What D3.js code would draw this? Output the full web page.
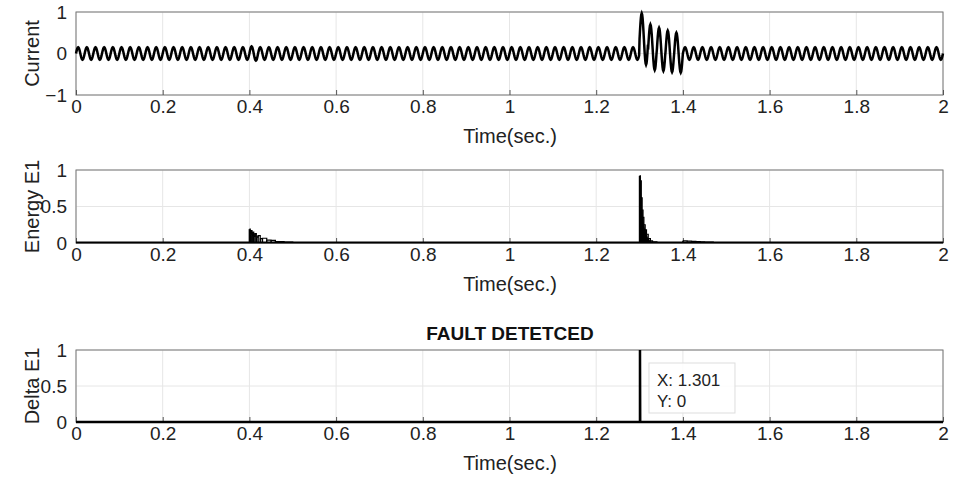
<!DOCTYPE html>
<html><head><meta charset="utf-8">
<script src="https://cdn.jsdelivr.net/npm/d3@7"></script>
<style>body{margin:0;background:#fff}text{font-family:"Liberation Sans",Arial,sans-serif}</style>
</head><body><svg id="c" width="960" height="482"></svg>
<script>
// ---- data ----
const xTicks = [0,0.2,0.4,0.6,0.8,1,1.2,1.4,1.6,1.8,2];
const currentYTicks = [-1,0,1];
const energyYTicks = [0,0.5,1];
const freqHz = 50;
// per-cycle waveform peak amplitude and dc offset (one entry per 20 ms cycle, 100 cycles)
const cycleAmp = [];
const cycleOffset = [];
const baseAmp = 0.15;
for (let i=0;i<100;i++){cycleAmp.push(baseAmp);cycleOffset.push(0);}
// fault cycles 1.30-1.40 s (cycles 65..69)
const faultAmp = [0.62,0.55,0.52,0.5,0.48];
const faultOffset = [0.35,0.15,0.1,0.05,0.02];
faultAmp.forEach((a,k)=>{cycleAmp[65+k]=a;cycleOffset[65+k]=faultOffset[k];});
cycleAmp[20]=0.17;
// energy E1 samples [time, value]
const energyBase = 0.006;
const energyEvent1 = [[0.400,0.19],[0.402,0.12],[0.404,0.17],[0.406,0.10],[0.408,0.15],[0.41,0.09],[0.413,0.13],[0.416,0.08],[0.42,0.10],[0.425,0.06],[0.43,0.065],[0.44,0.04],[0.45,0.035],[0.46,0.02],[0.47,0.018],[0.48,0.012],[0.5,0.008]];
const energyEvent2 = [[1.300,0.92],[1.302,0.85],[1.304,0.62],[1.306,0.45],[1.308,0.35],[1.31,0.25],[1.313,0.18],[1.316,0.12],[1.32,0.06],[1.325,0.03],[1.33,0.015],[1.34,0.01]];
const energyEvent3 = [[1.40,0.03],[1.41,0.025],[1.42,0.022],[1.43,0.018],[1.44,0.015],[1.45,0.012],[1.47,0.008]];
const deltaTime = 1.301;
const deltaPeak = 1;
const tipLines = ["X: 1.301","Y: 0"];

// ---- drawing ----
const svg = d3.select("#c");
const L=76,R=943;
const x = d3.scaleLinear().domain([0,2]).range([L,R]);
const panels=[
 {top:12,bot:95,dom:[-1,1],ticks:currentYTicks,label:"Current"},
 {top:170,bot:243,dom:[0,1],ticks:energyYTicks,label:"Energy E1"},
 {top:350,bot:422,dom:[0,1],ticks:energyYTicks,label:"Delta E1"}];
panels.forEach(p=>{
 p.y=d3.scaleLinear().domain(p.dom).range([p.bot,p.top]);
 const g=svg.append("g");
 g.selectAll(".gx").data(xTicks).join("line").attr("x1",d=>x(d)).attr("x2",d=>x(d)).attr("y1",p.top).attr("y2",p.bot).attr("stroke","#e6e6e6");
 g.selectAll(".gy").data(p.ticks).join("line").attr("x1",L).attr("x2",R).attr("y1",d=>p.y(d)).attr("y2",d=>p.y(d)).attr("stroke","#e6e6e6");
 g.append("rect").attr("x",L).attr("y",p.top).attr("width",R-L).attr("height",p.bot-p.top).attr("fill","none").attr("stroke","#777");
 const ax=g.append("g").attr("transform",`translate(0,${p.bot})`).call(d3.axisBottom(x).tickValues(xTicks).tickSize(-5).tickPadding(5).tickFormat(d3.format("")));
 ax.select(".domain").remove();ax.selectAll("line").attr("stroke","#555");
 ax.selectAll("text").style("font-size","19px").attr("fill","#222");
 const ay=g.append("g").attr("transform",`translate(${L},0)`).call(d3.axisLeft(p.y).tickValues(p.ticks).tickSize(0).tickPadding(9).tickFormat(d3.format("")));
 ay.select(".domain").remove();ay.selectAll("text").style("font-size","19px").attr("fill","#222");
 g.append("text").attr("x",510).attr("y",p.bot+48).attr("text-anchor","middle").style("font-size","20px").attr("fill","#222").text("Time(sec.)");
 g.append("text").attr("transform",`translate(39,${(p.top+p.bot)/2}) rotate(-90)`).attr("text-anchor","middle").style("font-size","20px").attr("fill","#222").text(p.label);
});
// current
const pts=[];
for(let i=0;i<100;i++){for(let k=0;k<20;k++){const t=(i*20+k)/1000;pts.push([t,cycleOffset[i]+cycleAmp[i]*Math.sin(2*Math.PI*freqHz*t)]);}}
pts.push([2,0]);
svg.append("path").datum(pts).attr("d",d3.line().x(d=>x(d[0])).y(d=>panels[0].y(d[1]))).attr("fill","none").attr("stroke","#000").attr("stroke-width",2.5);
// energy
const ey=panels[1].y;
[energyEvent1,energyEvent2,energyEvent3].forEach(e=>svg.append("path").datum(e).attr("d",d3.line().x(d=>x(d[0])).y(d=>ey(d[1])).curve(d3.curveStepAfter)).attr("fill","none").attr("stroke","#000").attr("stroke-width",1.2));
svg.append("g").selectAll("line").data([...energyEvent1,...energyEvent2,...energyEvent3]).join("line").attr("x1",d=>x(d[0])).attr("x2",d=>x(d[0])).attr("y1",ey(0)).attr("y2",d=>ey(d[1])).attr("stroke","#000").attr("stroke-width",1.5);
[energyEvent2].forEach(e=>svg.append("path").datum(e).attr("d",d3.area().x(d=>x(d[0])).y0(ey(0)).y1(d=>ey(d[1]))).attr("fill","#000"));
svg.append("line").attr("x1",x(0)).attr("x2",x(2)).attr("y1",ey(energyBase)).attr("y2",ey(energyBase)).attr("stroke","#000").attr("stroke-width",2);
// delta
const dy=panels[2].y;
svg.append("path").datum([[0,0],[deltaTime,0],[deltaTime,deltaPeak],[deltaTime+0.0005,0],[2,0]]).attr("d",d3.line().x(d=>x(d[0])).y(d=>dy(d[1]))).attr("fill","none").attr("stroke","#000").attr("stroke-width",2.5);
svg.append("text").attr("x",510).attr("y",340).attr("text-anchor","middle").style("font-size","19px").attr("font-weight","bold").attr("fill","#111").text("FAULT DETETCED");
// datatip
const tx=x(deltaTime)+9;
svg.append("rect").attr("x",tx).attr("y",363).attr("width",86).attr("height",50).attr("fill","#fff").attr("fill-opacity",0.85).attr("stroke","#ddd");
tipLines.forEach((s,i)=>svg.append("text").attr("x",tx+8).attr("y",386+i*21).style("font-size","17px").attr("fill","#222").text(s));
</script></body></html>
